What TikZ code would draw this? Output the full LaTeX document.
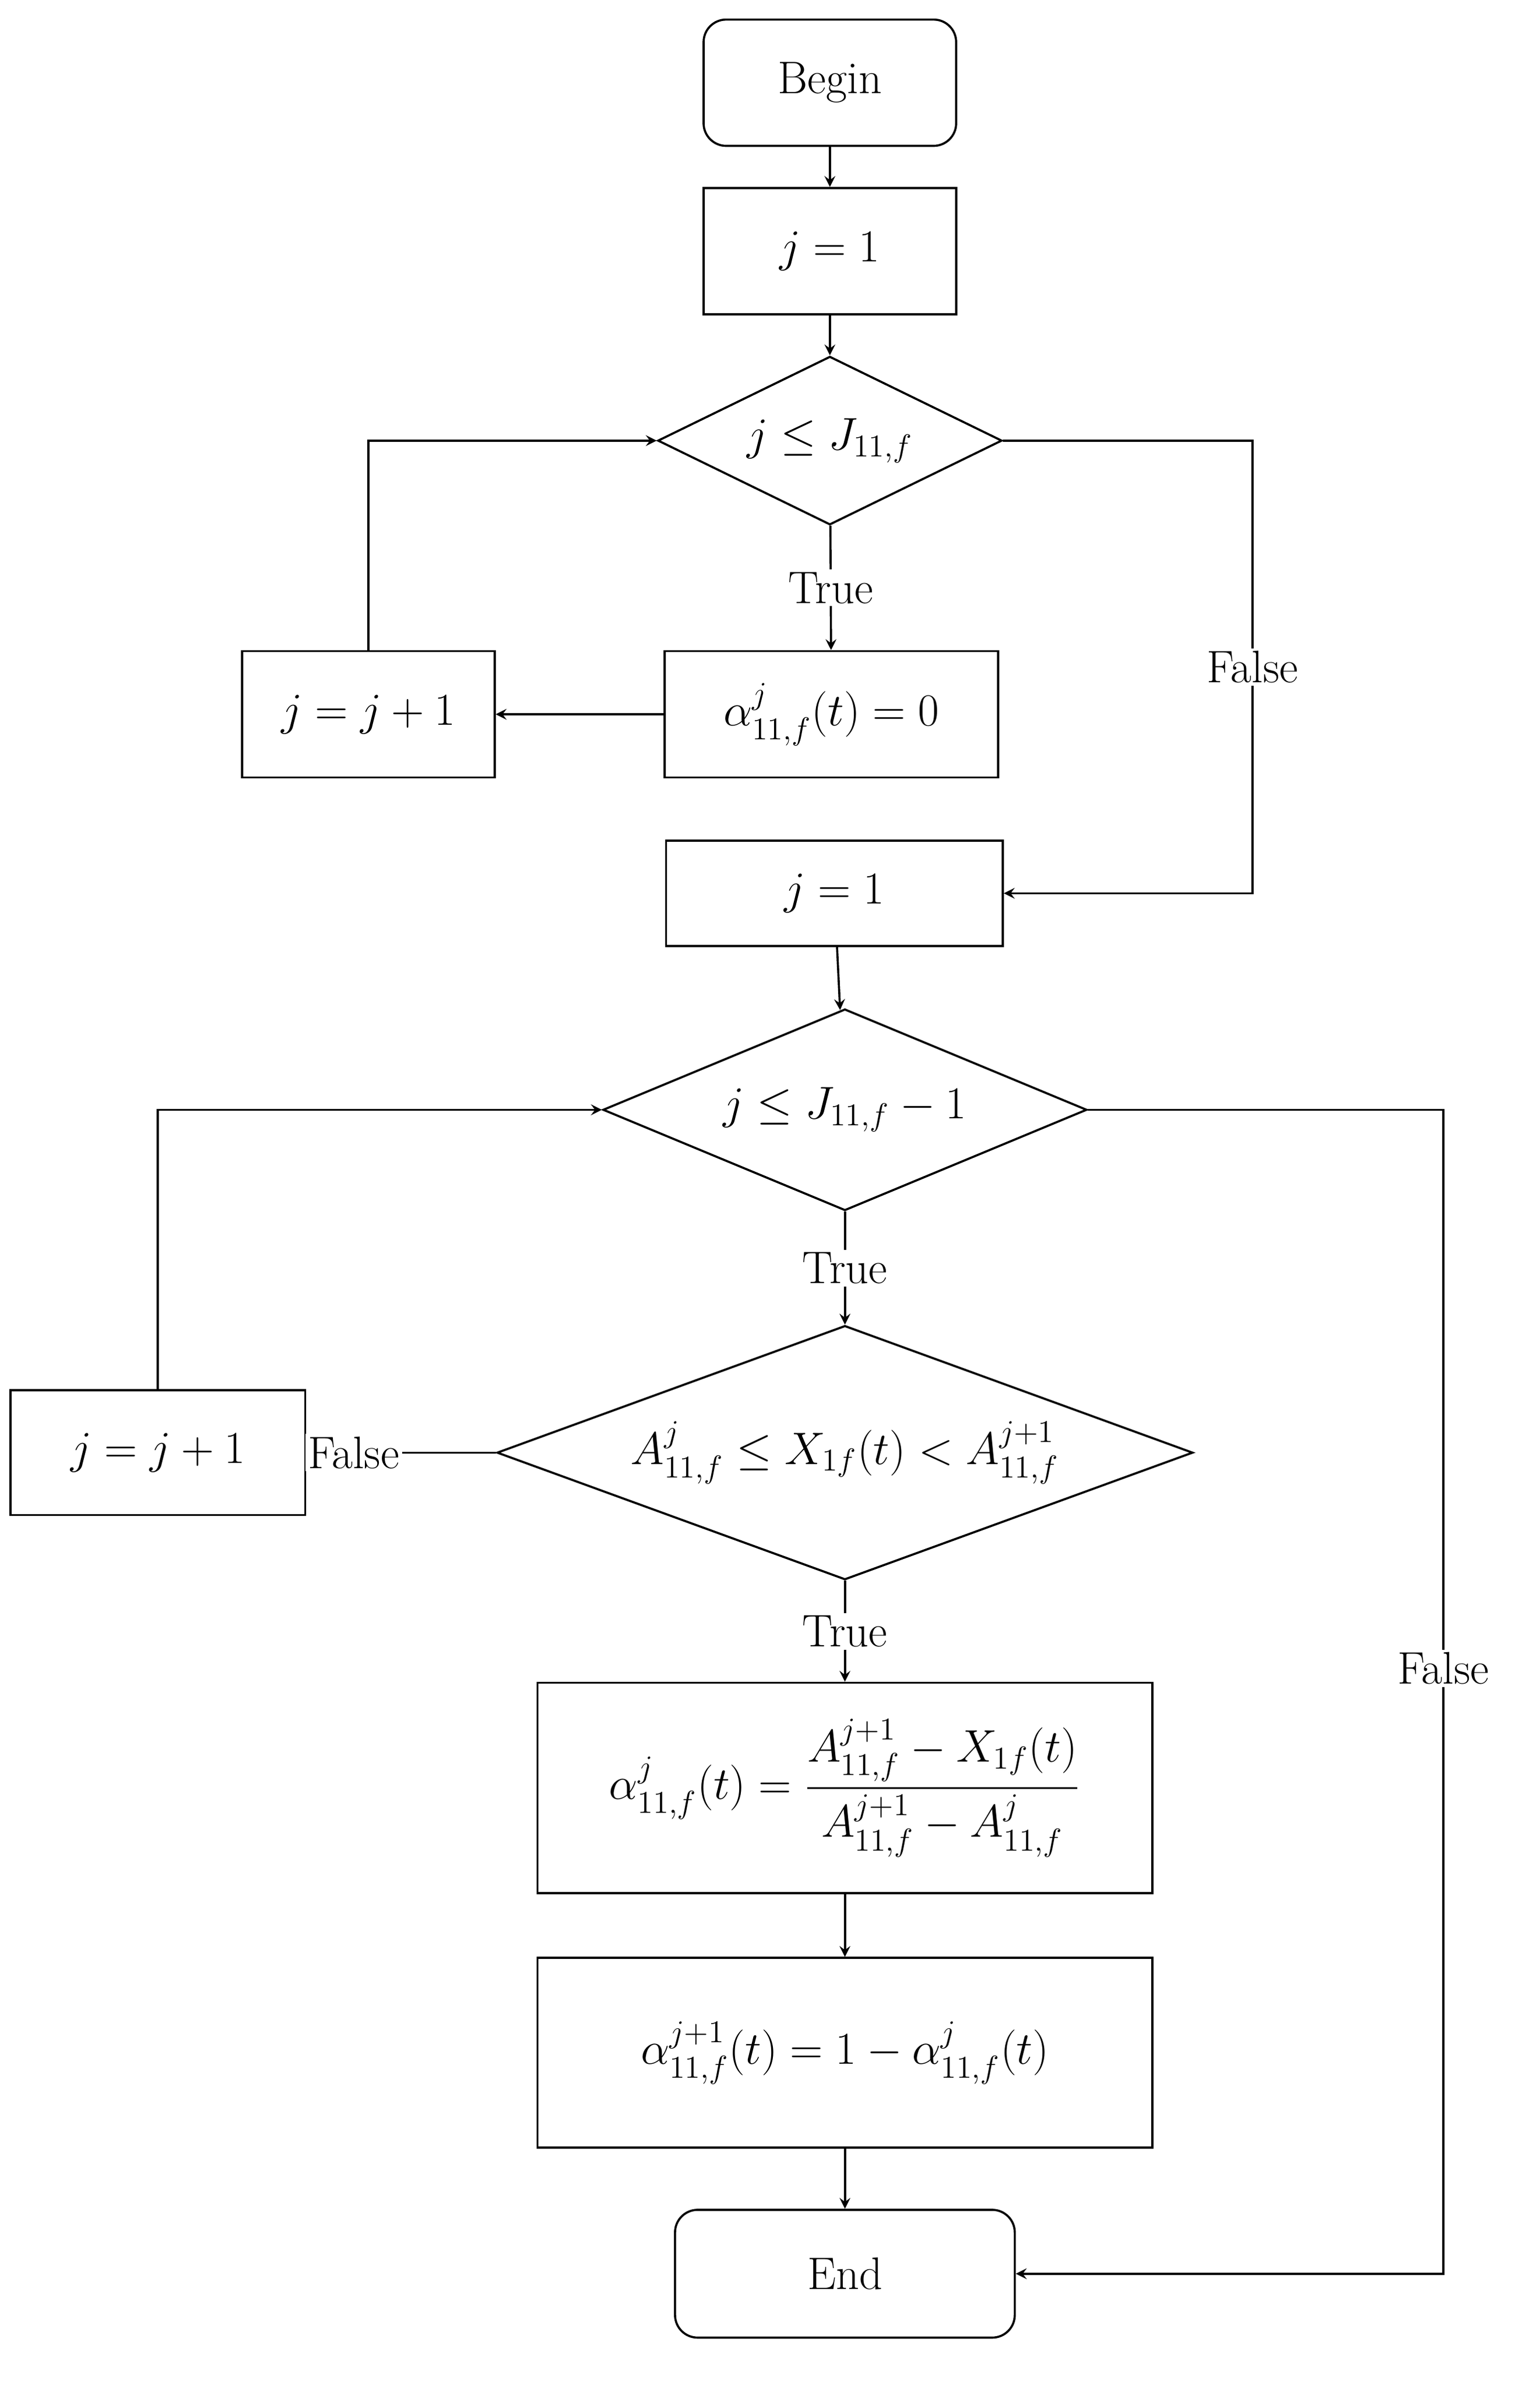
\documentclass[tikz,border=0pt]{standalone}
\usepackage{amsmath,amssymb}
\usepackage{tikz}
\usetikzlibrary{shapes.geometric, arrows.meta, positioning}

\tikzset{
    box/.style = {draw, rectangle, line width=0.8pt, inner sep=2pt},
    term/.style = {box, rounded corners=0.3cm, minimum width=3.36cm, minimum height=1.68cm},
    test/.style = {draw, diamond, line width=0.8pt, inner sep=0pt},
    lbl/.style = {fill=white, inner sep=1pt}
}

\begin{document}
\begin{tikzpicture}[x=0.02cm, y=-0.02cm, font=\LARGE, line width=0.8pt]
    \useasboundingbox (0,0) rectangle (1024,1588);
    \node (begin) [term] at (552,55) {Begin};
    \node (j1) [box, minimum width=3.36cm, minimum height=1.68cm] at (552,167) {$j=1$};
    \node (d1) [test, minimum width=4.58cm, minimum height=2.24cm, aspect=2.04] at (552,293) {$j \le J_{11,f}$};
    \node (a0) [box, minimum width=4.44cm, minimum height=1.68cm] at (553,475) {$\alpha_{11,f}^{j}(t) = 0$};
    \node (inc1) [box, minimum width=3.36cm, minimum height=1.68cm] at (245,475) {$j=j+1$};
    \node (j2) [box, minimum width=4.48cm, minimum height=1.4cm] at (555,594) {$j=1$};
    \node (d2) [test, minimum width=6.44cm, minimum height=2.68cm, aspect=2.4] at (562,738) {$j \le J_{11,f}-1$};
    \node (d3) [test, minimum width=9.26cm, minimum height=3.38cm, aspect=2.74] at (562,966) {$A_{11,f}^{j} \le X_{1f}(t) < A_{11,f}^{j+1}$};
    \node (inc2) [box, minimum width=3.92cm, minimum height=1.66cm] at (105,966) {$j=j+1$};
    \node (frac) [box, minimum width=8.18cm, minimum height=2.8cm] at (562,1189)
        {$\alpha_{11,f}^{j}(t) = \dfrac{A_{11,f}^{j+1} - X_{1f}(t)}{A_{11,f}^{j+1} - A_{11,f}^{j}}$};
    \node (a1) [box, minimum width=8.18cm, minimum height=2.52cm] at (562,1365) {$\alpha_{11,f}^{j+1}(t) = 1 - \alpha_{11,f}^{j}(t)$};
    \node (end) [term, minimum width=4.52cm, minimum height=1.7cm] at (562,1512) {End};
    \coordinate (r1) at (833,293);
    \coordinate (r2) at (960,738);

    \draw [-stealth] (begin) -- (j1);
    \draw [-stealth] (j1) -- (d1);
    \draw [-stealth] (d1) -- node[lbl] {True} (a0);
    \draw [-stealth] (a0) -- (inc1);
    \draw [-stealth] (inc1.north) |- (d1.west);
    \draw [-stealth] (d1.east) -- (r1) |- node[lbl, pos=0.25] {False} (j2.east);
    \draw [-stealth] (j2) -- (d2);
    \draw [-stealth] (d2) -- node[lbl] {True} (d3);
    \draw [-stealth] (d3.west) -- node[lbl, pos=0.75] {False} (inc2.east);
    \draw [-stealth] (inc2.north) |- (d2.west);
    \draw [-stealth] (d3) -- node[lbl] {True} (frac);
    \draw [-stealth] (frac) -- (a1);
    \draw [-stealth] (a1) -- (end);
    \draw [-stealth] (d2.east) -- (r2) |- node[lbl, pos=0.24] {False} (end.east);
\end{tikzpicture}
\end{document}
